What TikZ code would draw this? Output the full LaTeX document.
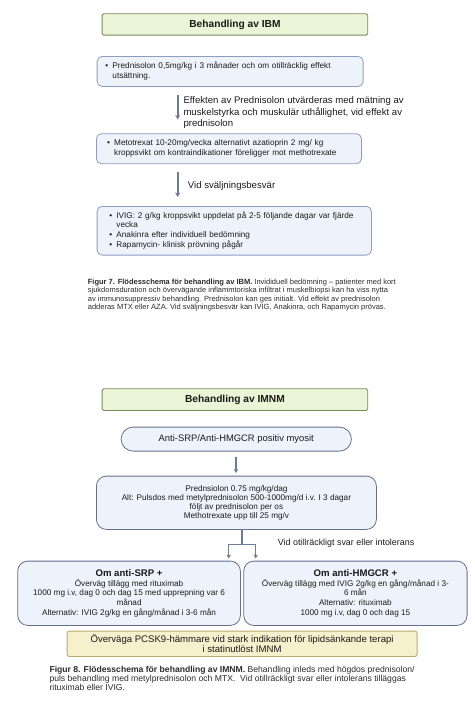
\documentclass[tikz,border=0pt]{standalone}
\usepackage{fontspec}
\setmainfont{Liberation Sans}
\usetikzlibrary{arrows.meta}
\definecolor{gfill}{HTML}{EAF4D6}
\definecolor{gdraw}{HTML}{7D8C5C}
\definecolor{bfill}{HTML}{EEF3FB}
\definecolor{bdraw}{HTML}{8D9DC2}
\definecolor{bdraw2}{HTML}{646E8E}
\definecolor{arr}{HTML}{6E7C9C}
\definecolor{yfill}{HTML}{F7F0CC}
\definecolor{ydraw}{HTML}{BCA86C}
\definecolor{txt}{HTML}{1A1A1A}
\definecolor{captxt}{HTML}{2A2A2A}
\newcommand{\fs}[2]{\fontsize{#1}{#2}\selectfont}
\begin{document}
\begin{tikzpicture}[x=1pt,y=-1pt,
  every node/.style={text=txt},
  titlebox/.style={draw=gdraw, fill=gfill, line width=0.9pt, rounded corners=1.5pt,
    anchor=north west, inner sep=0pt, font=\fs{10.2}{12}\bfseries},
  listbox/.style={draw=bdraw, fill=bfill, line width=0.8pt, rounded corners=5pt,
    anchor=north west, inner ysep=0pt, align=left, font=\fs{8.2}{9.6}},
  cbox/.style={draw=bdraw2, fill=bfill, line width=0.8pt, rounded corners=10pt,
    anchor=north west, inner sep=0pt, align=center, font=\fs{8.2}{9.2}},
  ybox/.style={draw=ydraw, fill=yfill, line width=0.8pt, rounded corners=2pt,
    anchor=north west, inner sep=0pt, align=center, font=\fs{9.6}{10}},
  lbl/.style={anchor=west, inner sep=0pt, align=left},
  captext/.style={anchor=west, inner sep=0pt, align=left, text=captxt},
  arrowline/.style={draw=arr, line width=1.6pt, -{Stealth[length=4.5pt,width=5pt]}},
  forkline/.style={draw=arr, line width=1.4pt},
  forkarrow/.style={draw=arr, line width=1.4pt, -{Stealth[length=4pt,width=4.5pt]}}
]
\useasboundingbox (0,0) rectangle (474,712);

% ---------- IBM ----------
\node[titlebox, minimum width=265.6pt, minimum height=21.4pt] (b1) at (101.7,13.3) {Behandling av IBM};

\node[listbox, inner xsep=8.3pt, text width=249.4pt, minimum height=30pt] (b2) at (96.7,56)
 {\noindent\begin{tabular}{@{}l@{\hspace{4.2pt}}l@{}}\textbullet & Prednisolon 0,5mg/kg i 3 månader och om otillräcklig effekt\\ & utsättning.\end{tabular}};

\coordinate (a1s) at (177.7,95);
\coordinate (a1e) at (177.7,119.5);
\draw[arrowline] (a1s) -- (a1e);
\node[lbl, font=\fs{9.6}{11.3}] (l1) at (183.3,112.6)
 {Effekten av Prednisolon utvärderas med mätning av\\muskelstyrka och muskulär uthållighet, vid effekt av\\prednisolon};

\node[listbox, inner xsep=10.7pt, text width=243.6pt, minimum height=30pt] (b3) at (96,133.3)
 {\noindent\begin{tabular}{@{}l@{\hspace{4.2pt}}l@{}}\textbullet & Metotrexat 10-20mg/vecka alternativt azatioprin 2 mg/ kg\\ & kroppsvikt om kontraindikationer föreligger mot methotrexate\end{tabular}};

\coordinate (a2s) at (177.7,171.7);
\coordinate (a2e) at (177.7,197);
\draw[arrowline] (a2s) -- (a2e);
\node[lbl, font=\fs{9.6}{11.3}] (l2) at (187.7,186) {Vid sväljningsbesvär};

\node[listbox, inner xsep=12.3pt, text width=249.7pt, minimum height=48.7pt] (b4) at (96.7,206)
 {\noindent\begin{tabular}{@{}l@{\hspace{4.2pt}}l@{}}\textbullet & IVIG: 2 g/kg kroppsvikt uppdelat på 2-5 följande dagar var fjärde\\ & vecka\\ \textbullet & Anakinra efter individuell bedömning\\ \textbullet & Rapamycin- klinisk prövning pågår\end{tabular}};

\node[captext, font=\fs{7.5}{8.5}] (c7) at (87.7,295)
 {\textbf{Figur 7. Flödesschema för behandling av IBM.} Invididuell bedömning – patienter med kort\\
  sjukdomsduration och övervägande inflammtoriska infiltrat i muskelbiopsi kan ha viss nytta\\
  av immunosuppressiv behandling. Prednisolon kan ges initialt. Vid effekt av prednisolon\\
  adderas MTX eller AZA. Vid sväljningsbesvär kan IVIG, Anakinra, och Rapamycin prövas.};

% ---------- IMNM ----------
\node[titlebox, minimum width=265.6pt, minimum height=21.7pt] (b5) at (101.7,388.3) {Behandling av IMNM};

\node[cbox, rounded corners=12pt, minimum width=230.3pt, minimum height=24pt, font=\fs{9.4}{10}] (b6) at (120.7,426.7)
 {Anti-SRP/Anti-HMGCR positiv myosit};

\coordinate (a3s) at (236,456.7);
\coordinate (a3e) at (236,473);
\draw[forkarrow, line width=1.1pt] (a3s) -- (a3e);

\node[cbox, minimum width=280pt, minimum height=53.3pt] (b7) at (96,475.7)
 {Prednsiolon 0.75 mg/kg/dag\\
  Alt: Pulsdos med metylprednisolon 500-1000mg/d i.v. I 3 dagar\\
  följt av prednisolon per os\\
  Methotrexate upp till 25 mg/v};

\coordinate (f0) at (242,529);
\coordinate (fm) at (242,544.3);
\coordinate (fl) at (228.7,544.3);
\coordinate (fr) at (255.7,544.3);
\coordinate (fle) at (228.7,558.5);
\coordinate (fre) at (255.7,558.5);
\draw[forkline] (f0) -- (fm);
\draw[forkline] (fl) -- (fr);
\draw[forkarrow] (fl) -- (fle);
\draw[forkarrow] (fr) -- (fre);
\node[lbl, font=\fs{8.9}{9}] (l3) at (277.7,543.3) {Vid otillräckligt svar eller intolerans};

\node[cbox, minimum width=222.7pt, minimum height=64.3pt, font=\fs{8.2}{9.6}] (b8) at (17.3,560.7)
 {{\fs{9.6}{10}\bfseries Om anti-SRP +}\\
  Överväg tillägg med rituximab\\
  1000 mg i.v, dag 0 och dag 15 med upprepning var 6\\
  månad\\
  Alternativ: IVIG 2g/kg en gång/månad i 3-6 mån};

\node[cbox, minimum width=223.4pt, minimum height=64.3pt, font=\fs{8.2}{9.6}] (b9) at (243.3,560.7)
 {{\fs{9.6}{10}\bfseries Om anti-HMGCR +}\\
  Överväg tillägg med IVIG 2g/kg en gång/månad i 3-\\
  6 mån\\
  Alternativ: rituximab\\
  1000 mg i.v, dag 0 och dag 15};

\node[ybox, minimum width=350pt, minimum height=25.3pt] (b10) at (66.7,630.7)
 {Överväga PCSK9-hämmare vid stark indikation för lipidsänkande terapi\\
  i statinutlöst IMNM};

\node[captext, font=\fs{8.6}{9.2}] (c8) at (49.3,678.2)
 {\textbf{Figur 8. Flödesschema för behandling av IMNM.} Behandling inleds med högdos prednisolon/\\
  puls behandling med metylprednisolon och MTX.\ \ Vid otillräckligt svar eller intolerans tilläggas\\
  rituximab eller IVIG.};
\end{tikzpicture}
\end{document}
